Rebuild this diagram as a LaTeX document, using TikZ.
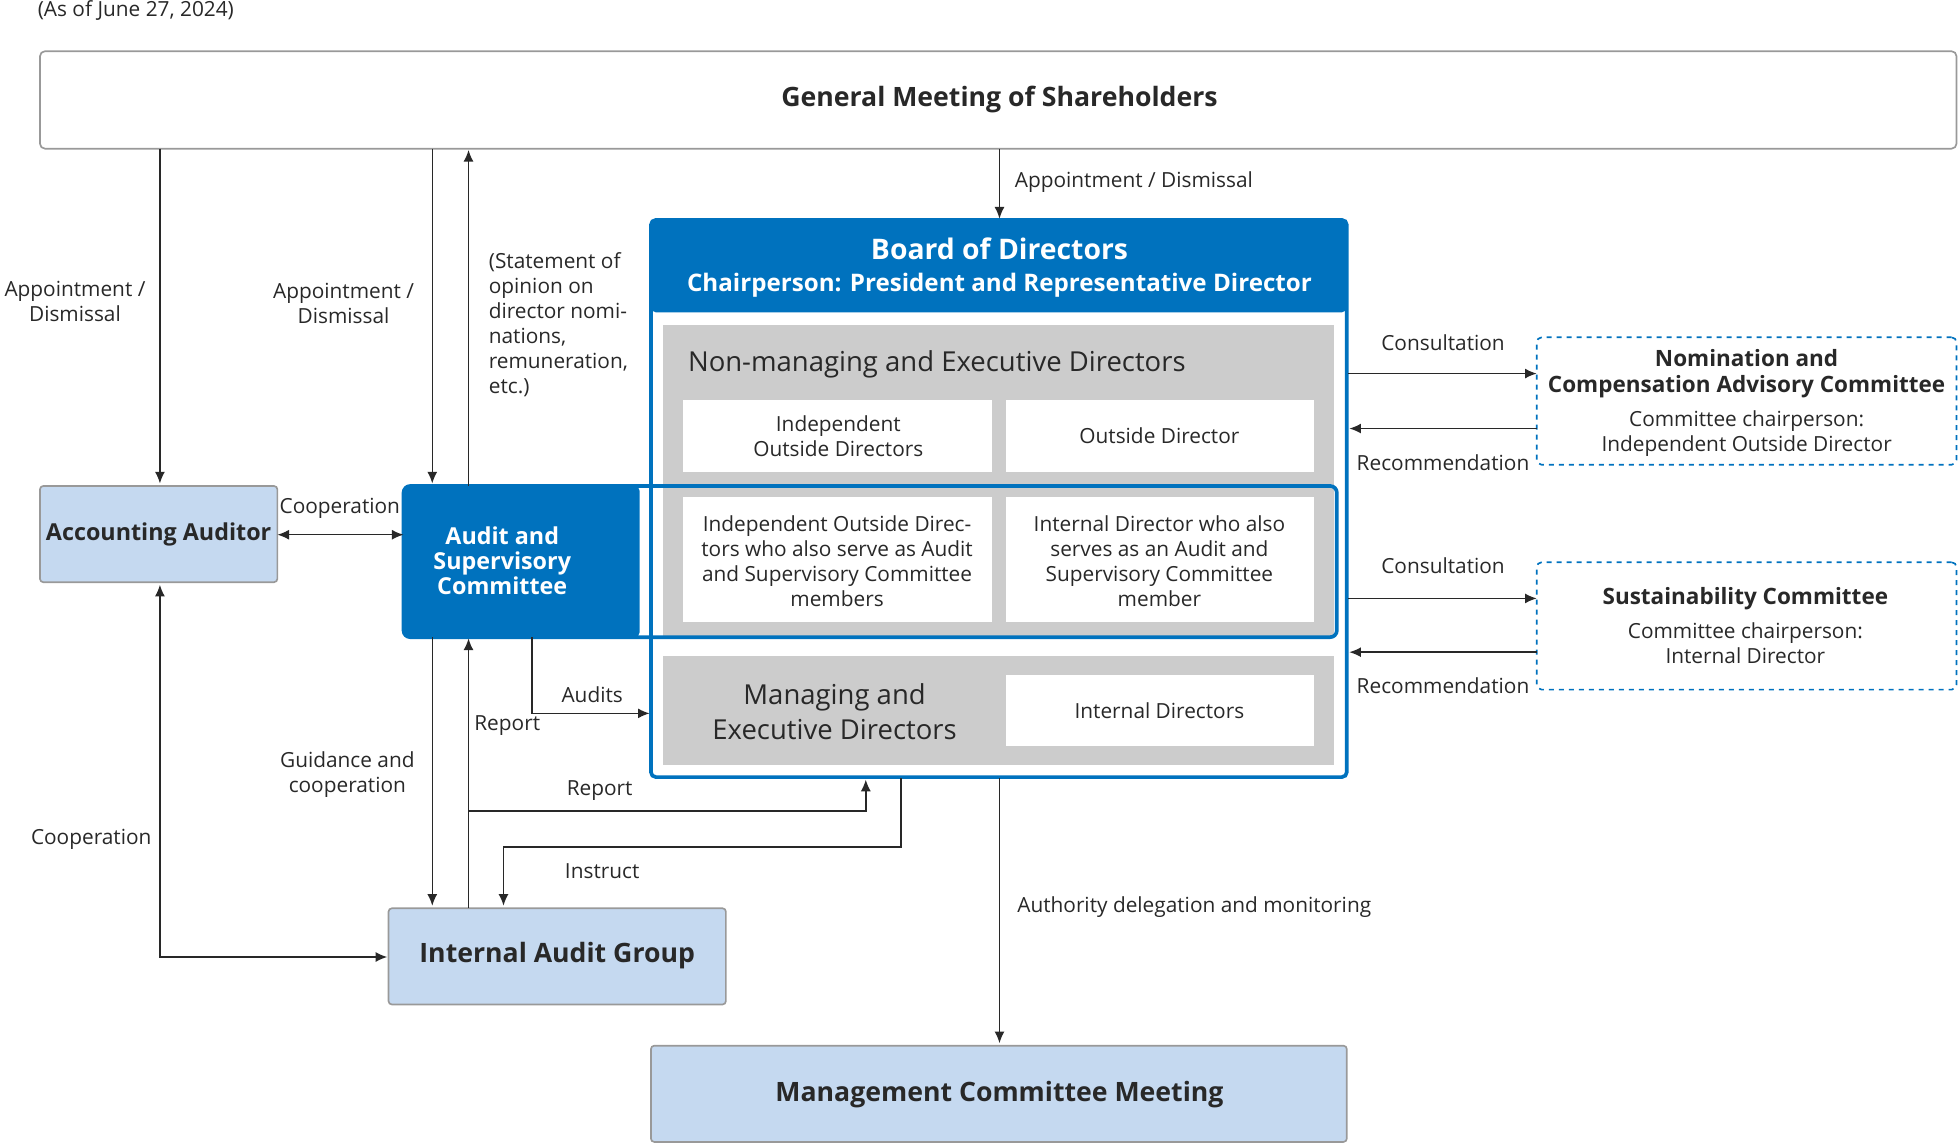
\documentclass[tikz,border=0pt]{standalone}
\usepackage{fontspec}
\setmainfont{Open Sans}
\usetikzlibrary{arrows.meta,fit}
\definecolor{bl}{RGB}{0,114,190}
\definecolor{lb}{RGB}{197,217,240}
\definecolor{gr}{RGB}{204,204,204}
\definecolor{tx}{RGB}{40,40,40}
\begin{document}
\begin{tikzpicture}[x=0.75pt,y=-0.75pt,
 lbl/.style={font=\fontsize{12.5}{15}\selectfont,text=tx,align=center,inner sep=0},
 big/.style={font=\fontsize{16}{19}\selectfont\bfseries,text=tx},
 bx/.style={fit={#1},inner sep=0},
 lbox/.style={draw=gray!80,fill=lb,rounded corners=2pt,line width=1pt},
 wbox/.style={fill=white,draw=none},
 dbox/.style={draw=bl,dashed,rounded corners=3pt,line width=1pt},
 arr/.style={-{Latex[length=7pt,width=6pt]},line width=0.9pt,draw=tx},
 darr/.style={{Latex[length=7pt,width=6pt]}-{Latex[length=7pt,width=6pt]},line width=0.9pt,draw=tx}]
\useasboundingbox (0,0) rectangle (1568,916);
\node[lbl,anchor=north west] (date) at (30,0) {(As of June 27, 2024)};
\node[bx={(32,41)(1566,119)},draw=gray!80,rounded corners=3pt,line width=1pt] (gm) {};
\node[big] at (800,80) {General Meeting of Shareholders};
% board
\fill[bl,rounded corners=3pt] (521,176) rectangle (1078,250);
\node[bx={(521,176)(1078,622)},draw=bl,line width=2.2pt,rounded corners=3pt] (bod) {};
\node[font=\fontsize{17}{20}\selectfont\bfseries,text=white,align=center] (bodt) at (800,214) {Board of Directors\\[-1pt]\fontsize{14.5}{18}\selectfont Chairperson: President and Representative Director};
\fill[gr] (531,260) rectangle (1068,510);
\fill[gr] (531,525) rectangle (1068,612);
\node[font=\fontsize{16.5}{19}\selectfont,text=tx,anchor=west] (nm) at (546,292) {Non-managing and Executive Directors};
\node[bx={(547,320)(794,378)},wbox] (iod) {};
\node[lbl] at (671,349) {Independent\\Outside Directors};
\node[bx={(805,320)(1052,378)},wbox] (od) {};
\node[lbl] at (928,349) {Outside Director};
\node[bx={(547,398)(794,498)},wbox] (ioda) {};
\node[lbl] at (670,449) {Independent Outside Direc-\\tors who also serve as Audit\\and Supervisory Committee\\members};
\node[bx={(805,398)(1052,498)},wbox] (ida) {};
\node[lbl] at (928,449) {Internal Director who also\\serves as an Audit and\\Supervisory Committee\\member};
\node[font=\fontsize{16.5}{21}\selectfont,text=tx,align=center] (md) at (668,570) {Managing and\\Executive Directors};
\node[bx={(805,540)(1052,597)},wbox] (id) {};
\node[lbl] at (928,569) {Internal Directors};
% audit committee
\fill[bl,rounded corners=3pt] (323,389) rectangle (512,510);
\draw[bl,line width=2.2pt,rounded corners=4pt] (323,389) rectangle (1070,510);
\node[font=\fontsize{14}{15}\selectfont\bfseries,text=white,align=center] (ac) at (402,449) {Audit and\\Supervisory\\Committee};
% other boxes
\node[bx={(32,389)(222,466)},lbox] (aa) {};
\node[font=\fontsize{14}{16}\selectfont\bfseries,text=tx] at (127,428) {Accounting Auditor};
\node[bx={(311,727)(581,804)},lbox] (iag) {};
\node[big] at (446,765) {Internal Audit Group};
\node[bx={(521,837)(1078,914)},lbox] (mc) {};
\node[big] at (800,876) {Management Committee Meeting};
\node[bx={(1230,270)(1566,372)},dbox] (nc) {};
\node[font=\fontsize{13.5}{16}\selectfont\bfseries,text=tx,align=center] at (1398,299) {Nomination and\\Compensation Advisory Committee};
\node[lbl] at (1398,347) {Committee chairperson:\\Independent Outside Director};
\node[bx={(1230,450)(1566,552)},dbox] (sc) {};
\node[font=\fontsize{13.5}{16}\selectfont\bfseries,text=tx] at (1397,479) {Sustainability Committee};
\node[lbl] at (1397,515) {Committee chairperson:\\Internal Director};
% arrows
\draw[arr] (128,119) -- (128,387);
\node[lbl] at (60,241) {Appointment /\\Dismissal};
\draw[arr] (346,119) -- (346,387);
\node[lbl] at (275,243) {Appointment /\\Dismissal};
\draw[arr] (375,389) -- (375,120);
\node[lbl,align=left,anchor=north west] at (391,202) {(Statement of\\opinion on\\director nomi-\\nations,\\remuneration,\\etc.)};
\draw[arr] (800,119) -- (800,175);
\node[lbl,anchor=west] at (812,146) {Appointment / Dismissal};
\draw[darr] (222,428) -- (323,428);
\node[lbl] at (272,407) {Cooperation};
\draw[arr] (1079,299) -- (1230,299);
\node[lbl] at (1155,274) {Consultation};
\draw[arr] (1230,343) -- (1080,343);
\node[lbl] at (1155,370) {Recommendation};
\draw[arr] (1079,479) -- (1230,479);
\node[lbl] at (1155,453) {Consultation};
\draw[arr] (1230,522) -- (1080,522);
\node[lbl] at (1155,549) {Recommendation};
\draw[arr] (426,510) -- (426,571) -- (520,571);
\node[lbl] at (474,556) {Audits};
\draw[arr] (346,510) -- (346,725);
\node[lbl] at (278,620) {Guidance and\\cooperation};
\draw[arr] (375,727) -- (375,511);
\node[lbl] at (406,581) {Report};
\draw[arr] (375,649) -- (693,649) -- (693,624);
\node[lbl] at (480,633) {Report};
\draw[arr] (721,623) -- (721,678) -- (403,678) -- (403,725);
\node[lbl] at (482,697) {Instruct};
\draw[arr] (800,623) -- (800,835);
\node[lbl,anchor=west] at (814,726) {Authority delegation and monitoring};
\draw[darr] (310,766) -- (128,766) -- (128,468);
\node[lbl] at (73,672) {Cooperation};
\end{tikzpicture}
\end{document}
